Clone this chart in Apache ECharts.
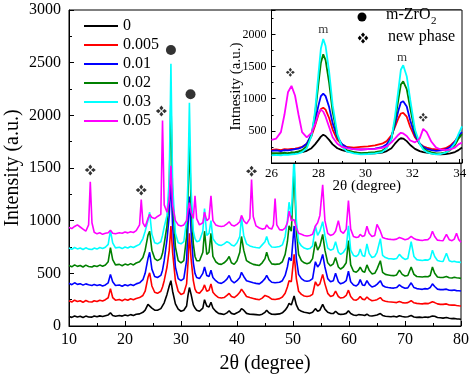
<!DOCTYPE html>
<html><head><meta charset="utf-8">
<script src="https://cdn.jsdelivr.net/npm/echarts@6/dist/echarts.min.js"></script>
<style>html,body{margin:0;padding:0;background:#fff}#c{width:474px;height:379px}</style>
</head><body><div id="c"></div>
<script>
// ---------- main panel data (2θ in degrees, intensity in a.u.) ----------
const twoTheta = [
10,10.5,11,11.5,12,12.5,13,13.5,13.8,14.1,
14.5,15,15.5,16,16.5,17,17.4,17.8,18.3,19,
19.5,20,20.5,21,21.5,22,22.6,22.9,23.2,23.6,
24.1,24.4,24.8,25.3,25.8,26.4,26.7,27.0,27.5,27.9,
28.2,28.5,29.0,29.5,30.0,30.5,31.0,31.25,31.5,31.8,
32.2,32.5,32.8,33.3,33.9,34.2,34.6,35.0,35.35,35.7,
36.2,36.7,37.2,37.7,38.2,38.6,39.0,39.5,40.0,40.5,
40.8,41.2,41.7,42.3,42.6,42.9,43.4,44.0,44.5,45.0,
45.3,45.7,46.2,46.5,46.8,47.1,47.6,48.1,48.6,49.0,
49.3,49.7,50.2,50.6,51.0,51.5,52.0,52.5,53.0,53.5,
54.0,54.4,54.8,55.3,55.7,56.2,56.7,57.2,57.6,58.1,
58.5,59.0,59.5,59.9,60.3,60.8,61.3,61.7,62.0,62.4,
62.8,63.2,63.6,64.1,64.6,65.0,65.6,66.0,66.5,67.0,
67.5,68.0,68.5,69.0,69.5,70.0,70.5,71.1,71.6,72.1,
72.6,73.1,73.6,74.1,74.5,74.9,75.3,75.8,76.3,76.8,
77.4,77.9,78.4,78.8,79.2,79.6,80];
const s0 = [
90,82,95,85,92,80,94,86,90,84,
95,88,96,90,98,105,125,100,92,100,
94,104,98,108,100,112,115,120,130,150,
205,215,170,150,150,165,180,220,300,380,
430,330,210,160,140,150,190,290,365,300,
200,170,150,140,170,250,190,180,225,170,
140,120,115,110,125,145,120,112,125,140,
165,150,120,112,118,110,108,104,112,130,
150,125,112,115,110,108,115,125,150,180,
215,200,285,200,155,140,130,125,120,130,
165,140,150,205,160,130,120,118,140,115,
110,112,120,145,118,105,100,108,122,105,
100,112,98,95,100,104,118,100,92,90,
88,92,86,98,90,85,88,100,86,82,
84,80,86,82,88,95,92,80,78,75,
80,74,70,72,68,66,64];
const s005 = [
240,228,245,232,240,225,242,230,238,228,
240,232,245,238,250,268,355,270,245,252,
240,255,245,258,250,262,270,275,290,330,
460,505,380,320,310,330,370,430,560,720,
950,700,430,330,300,310,400,600,880,640,
430,350,320,310,350,390,330,340,400,320,
290,270,265,270,290,310,280,270,290,320,
350,320,280,270,265,262,255,250,265,290,
305,275,255,260,252,250,260,275,310,370,
430,420,680,450,330,300,285,280,285,300,
420,380,400,490,400,310,280,290,330,280,
265,270,290,340,280,250,245,260,280,255,
250,275,255,240,245,250,270,245,235,230,
228,225,222,232,222,218,222,240,220,215,
212,210,215,212,220,230,222,210,205,205,
210,200,198,200,195,192,190];
const s01 = [
405,392,410,395,402,388,400,392,398,385,
395,385,392,380,390,410,490,420,385,390,
378,392,382,395,385,400,410,420,440,500,
640,700,540,470,460,480,530,620,820,1050,
1400,950,560,450,430,450,620,950,1230,900,
600,500,460,450,500,560,480,470,530,460,
430,410,405,420,445,480,430,410,430,460,
510,470,430,420,415,410,405,400,420,450,
480,440,415,420,410,408,415,430,480,560,
650,620,950,640,490,450,430,425,430,450,
610,560,590,680,560,450,420,430,500,420,
400,410,430,520,420,390,380,400,440,390,
385,430,395,370,380,395,430,385,370,365,
362,360,365,390,370,358,362,410,365,355,
352,348,355,352,365,400,375,350,345,345,
350,340,338,342,336,335,332];
const s02 = [
575,562,580,566,575,560,578,565,572,560,
572,565,578,568,580,610,745,630,580,585,
572,588,578,592,580,598,610,620,650,720,
860,900,720,640,620,640,690,780,950,1300,
2180,1200,750,620,600,620,850,1250,1760,1150,
780,660,620,620,700,900,680,700,880,660,
610,590,585,600,625,660,600,585,620,700,
850,720,620,600,590,585,580,575,600,640,
700,630,590,600,585,580,590,610,680,800,
950,900,1500,900,680,620,600,590,600,640,
800,720,760,870,720,600,570,590,650,560,
540,560,600,810,580,520,510,530,560,520,
510,580,530,495,500,540,620,510,490,485,
480,478,485,530,490,475,480,560,490,470,
468,465,470,468,480,560,500,465,460,460,
470,458,455,462,458,455,452];
const s03 = [
740,728,745,732,740,726,742,730,738,726,
740,730,745,735,748,775,905,790,742,748,
735,750,740,755,745,760,775,790,830,900,
1000,1080,870,790,780,800,860,940,1050,1400,
2490,1350,880,790,780,800,1000,1400,2120,1300,
900,830,800,810,900,1115,860,880,1000,830,
790,770,765,780,800,790,770,760,790,850,
1030,860,780,760,755,750,745,740,770,800,
850,780,750,760,748,745,755,770,850,1000,
1175,1050,1620,1000,800,760,740,730,735,760,
950,860,900,990,860,740,720,730,800,700,
680,700,740,950,720,670,660,680,730,670,
660,780,690,650,660,700,830,670,650,640,
638,635,640,680,650,632,640,800,660,630,
625,622,628,625,640,720,660,622,615,612,
690,620,610,615,608,606,604];
const s05 = [
935,925,945,960,940,920,900,960,1370,980,
890,875,885,870,880,885,910,880,875,885,
880,892,884,895,888,905,960,1200,980,940,
1020,1060,1030,1020,1040,1060,1950,1150,1080,1200,
1520,1150,1000,960,950,960,1000,1100,1170,1080,
1020,1236,1020,960,980,1080,1000,1020,1236,1000,
960,950,945,950,970,990,960,950,965,990,
1050,1000,970,1020,1390,1040,950,930,920,925,
960,930,920,960,1210,960,915,910,930,980,
1090,1000,1010,930,880,870,860,855,860,870,
950,980,1050,1340,1000,880,860,870,900,1000,
900,880,920,1190,920,850,840,845,870,850,
860,948,880,850,860,965,900,840,830,825,
822,820,825,840,830,818,825,850,830,820,
815,812,818,820,840,900,850,815,812,810,
870,820,810,825,880,820,795];

// ---------- inset data (26–34.1°) ----------
const insetTheta = [
26.0,26.2,26.4,26.55,26.7,26.85,27.0,27.15,27.3,27.5,
27.7,27.85,28.0,28.1,28.2,28.3,28.45,28.6,28.8,29.0,
29.2,29.5,29.8,30.1,30.4,30.7,30.9,31.1,31.25,31.4,
31.5,31.6,31.75,31.9,32.1,32.3,32.45,32.6,32.8,33.0,
33.2,33.4,33.6,33.8,33.95,34.1];
const in0 = [
150,140,155,145,150,160,155,165,170,190,
230,290,360,410,440,420,360,290,230,200,
180,165,150,145,150,160,185,230,300,360,
385,380,340,280,220,185,170,160,150,140,
135,140,150,170,200,240];
const in005 = [
205,210,200,215,210,220,225,235,250,300,
420,580,760,840,860,830,700,520,360,290,
250,240,250,260,275,300,340,430,560,700,
770,780,720,560,400,300,260,240,220,210,
215,230,270,340,420,470];
const in01 = [
190,195,185,200,195,205,215,225,245,300,
450,650,900,1040,1080,1040,870,620,400,290,
240,215,210,215,225,245,290,400,600,820,
940,960,880,660,430,300,250,220,200,190,
195,210,250,330,420,480];
const in02 = [
150,155,145,160,150,165,170,180,200,260,
430,750,1250,1560,1690,1600,1250,800,420,260,
200,170,155,160,170,190,240,380,650,1000,
1220,1270,1150,850,480,300,230,190,165,150,
150,165,200,280,380,450];
const in03 = [
120,125,118,130,125,135,140,150,170,230,
420,800,1400,1780,1930,1820,1420,900,450,250,
180,150,135,140,150,170,230,380,720,1150,
1450,1520,1350,980,520,300,210,170,145,135,
140,160,210,310,450,570];
const in05 = [
360,380,480,750,1100,1200,1050,750,480,400,
470,600,780,830,800,720,560,400,300,250,
230,215,210,215,220,235,260,320,380,440,
470,460,420,350,320,380,530,480,330,240,
210,200,210,240,290,320];

// ---------- labels, peak markers ----------
const seriesNames = ['0','0.005','0.01','0.02','0.03','0.05'];
const seriesColors = ['#000000','#ff0000','#0000ff','#008000','#00ffff','#ff00ff'];
const mainValues = [s0,s005,s01,s02,s03,s05];
const insetValues = [in0,in005,in01,in02,in03,in05];
const mZrO2Marks = [[28.2,2620],[31.7,2200]];
const newPhaseMarks = [[13.8,1480],[22.9,1290],[26.5,2040],[42.6,1470]];
const insetMLabels = [[28.2,2080],[31.55,1640]];
const insetNewPhaseMarks = [[26.8,1410],[32.45,710]];

const FONT = 'Liberation Serif';
const CLOVER = 'path://M6,0L8.2,2.6L6,5.2L3.8,2.6ZM6,6.8L8.2,9.4L6,12L3.8,9.4ZM0,6L2.6,3.8L5.2,6L2.6,8.2ZM6.8,6L9.4,3.8L12,6L9.4,8.2Z';
const LINE_ICON = 'path://M0,0L34,0L34,1.8L0,1.8Z';

const series = [];
mainValues.forEach((vals,k)=>{
  series.push({type:'line', name:seriesNames[k], xAxisIndex:0, yAxisIndex:0,
    data: twoTheta.map((x,i)=>[x, vals[i]]), symbol:'none', z:2,
    lineStyle:{width:1.6, color:seriesColors[k]}, itemStyle:{color:seriesColors[k]}});
});
insetValues.forEach((vals,k)=>{
  series.push({type:'line', name:seriesNames[k], xAxisIndex:1, yAxisIndex:1,
    data: insetTheta.map((x,i)=>[x, vals[i]]), symbol:'none', z:12,
    lineStyle:{width:1.8, color:seriesColors[k]}, itemStyle:{color:seriesColors[k]}});
});
series.push({type:'scatter', xAxisIndex:0, yAxisIndex:0, data:mZrO2Marks, symbol:'circle', symbolSize:10, itemStyle:{color:'#000'}, z:4, silent:true});
series.push({type:'scatter', xAxisIndex:0, yAxisIndex:0, data:newPhaseMarks, symbol:CLOVER, symbolSize:11, itemStyle:{color:'#000'}, z:4, silent:true});
series.push({type:'scatter', xAxisIndex:1, yAxisIndex:1, data:insetNewPhaseMarks, symbol:CLOVER, symbolSize:9, itemStyle:{color:'#000'}, z:14, silent:true});
series.push({type:'scatter', xAxisIndex:1, yAxisIndex:1, data:insetMLabels, symbolSize:0, z:14, silent:true,
  label:{show:true, position:'inside', formatter:'m', fontFamily:FONT, fontSize:13, color:'#000'}});

// clover for the inset legend, built from four small diamonds
function diamond(cx, cy, r){ return {type:'polygon', z:100, shape:{points:[[cx,cy-r],[cx+r*0.85,cy],[cx,cy+r],[cx-r*0.85,cy]]}, style:{fill:'#000'}}; }
const lc = [363, 38];
const cloverLegend = [diamond(lc[0],lc[1]-3.2,2.4), diamond(lc[0],lc[1]+3.2,2.4), diamond(lc[0]-3.2,lc[1],2.4), diamond(lc[0]+3.2,lc[1],2.4)];

const chart = echarts.init(document.getElementById('c'), null, {renderer:'canvas'});
chart.setOption({
  animation:false,
  backgroundColor:'#fff',
  textStyle:{fontFamily:FONT},
  grid:[
    {left:69, right:13, top:10, bottom:53, show:true, borderColor:'#000', borderWidth:1, containLabel:false, outerBoundsMode:'none'},
    {left:271.5, right:12, top:10, bottom:216, show:true, backgroundColor:'#fff', borderColor:'#000', borderWidth:1, z:5, containLabel:false, outerBoundsMode:'none'}
  ],
  legend:{data:seriesNames.map(n=>({name:n, icon:LINE_ICON})), orient:'vertical', left:79, top:12, itemWidth:34, itemHeight:12, itemGap:1,
    textStyle:{fontFamily:FONT, fontSize:16, color:'#000', lineHeight:18}},
  xAxis:[
    {type:'value', gridIndex:0, min:10, max:80, interval:10, splitLine:{show:false},
     axisLine:{lineStyle:{color:'#000'}}, axisTick:{inside:true, length:5, lineStyle:{color:'#000'}},
     minorTick:{show:true, splitNumber:2, length:3, lineStyle:{color:'#000'}},
     axisLabel:{fontFamily:FONT, fontSize:16, color:'#000', margin:6, formatter:v=>String(v)},
     name:'2θ (degree)', nameLocation:'middle', nameGap:28, nameMoveOverlap:false, nameTextStyle:{fontFamily:FONT, fontSize:20, color:'#000'}},
    {type:'value', gridIndex:1, min:26, max:34.1, interval:2, splitLine:{show:false}, z:10,
     axisLine:{lineStyle:{color:'#000'}}, axisTick:{inside:true, length:4, lineStyle:{color:'#000'}},
     minorTick:{show:true, splitNumber:2, length:2, lineStyle:{color:'#000'}},
     axisLabel:{fontFamily:FONT, fontSize:13, color:'#000', margin:4, formatter:v=> (Math.abs(v%2)<1e-9 ? String(v) : '')},
     name:'2θ (degree)', nameLocation:'middle', nameGap:16, nameMoveOverlap:false, nameTextStyle:{fontFamily:FONT, fontSize:15, color:'#000'}}
  ],
  yAxis:[
    {type:'value', gridIndex:0, min:0, max:3000, interval:500, splitLine:{show:false},
     axisLine:{show:true, lineStyle:{color:'#000'}}, axisTick:{show:true, inside:true, length:5, lineStyle:{color:'#000'}},
     minorTick:{show:true, splitNumber:2, length:3, lineStyle:{color:'#000'}},
     axisLabel:{fontFamily:FONT, fontSize:16, color:'#000', margin:8, formatter:v=>String(v)},
     name:'Intensity (a.u.)', nameLocation:'middle', nameGap:46, nameMoveOverlap:false, nameTextStyle:{fontFamily:FONT, fontSize:20, color:'#000'}},
    {type:'value', gridIndex:1, min:0, max:2380, interval:500, splitLine:{show:false}, z:10,
     axisLine:{show:true, lineStyle:{color:'#000'}}, axisTick:{show:true, inside:true, length:4, lineStyle:{color:'#000'}},
     minorTick:{show:true, splitNumber:2, length:2, lineStyle:{color:'#000'}},
     axisLabel:{fontFamily:FONT, fontSize:12, color:'#000', margin:5, formatter:v=> (v>0 && v%500===0 ? String(v) : '')},
     name:'Intnesity (a.u.)', nameLocation:'middle', nameGap:28, nameMoveOverlap:false, nameTextStyle:{fontFamily:FONT, fontSize:15, color:'#000'}}
  ],
  graphic:[
    {type:'circle', z:100, shape:{cx:362, cy:17, r:4.5}, style:{fill:'#000'}},
    {type:'text', z:100, x:386, y:7, style:{text:'m-ZrO', fill:'#000', font:'16px "Liberation Serif"'}},
    {type:'text', z:100, x:431, y:16, style:{text:'2', fill:'#000', font:'11px "Liberation Serif"'}},
    ...cloverLegend,
    {type:'text', z:100, x:388, y:29, style:{text:'new phase', fill:'#000', font:'16px "Liberation Serif"'}}
  ],
  series:series
});
</script></body></html>
